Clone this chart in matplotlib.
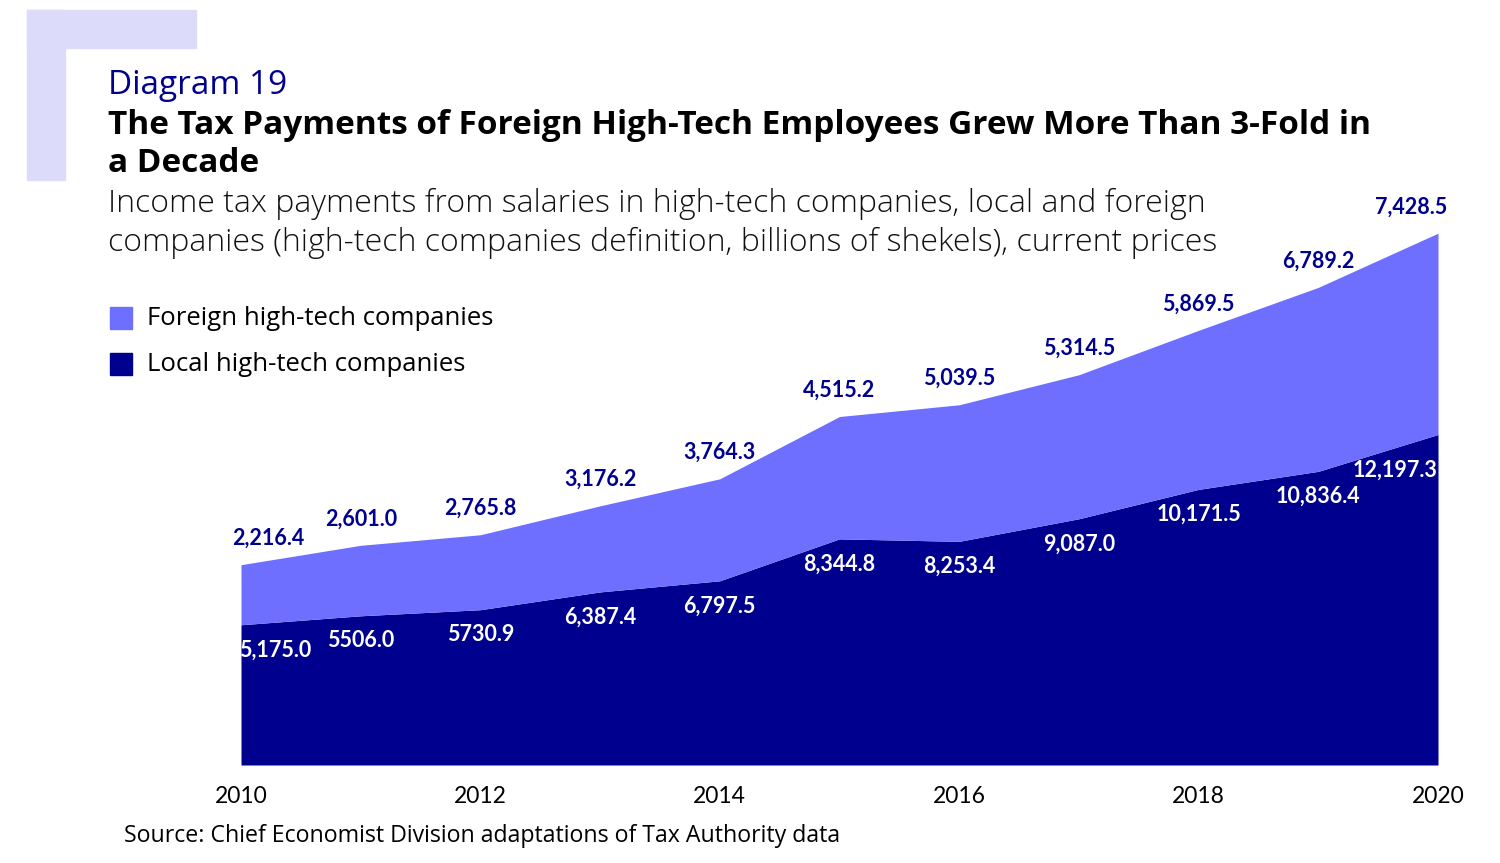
import matplotlib
matplotlib.use('Agg')
import matplotlib.pyplot as plt
import matplotlib.patches as mpatches

# colours
NAVY     = '#00008f'
LIGHT    = '#6e6eff'
DECOR    = '#dcdcfa'
TXT      = '#000000'
FONT     = 'Lato'        # numbers / ticks
TFONT    = 'Open Sans'   # titles, legend, source

# data (billions of shekels)
YEARS    = [2010, 2011, 2012, 2013, 2014, 2015, 2016, 2017, 2018, 2019, 2020]
LOCAL    = [5175.0, 5506.0, 5730.9, 6387.4, 6797.5, 8344.8, 8253.4, 9087.0,
            10171.5, 10836.4, 12197.3]
FOREIGN  = [2216.4, 2601.0, 2765.8, 3176.2, 3764.3, 4515.2, 5039.5, 5314.5,
            5869.5, 6789.2, 7428.5]
LOCAL_LBL   = ['5,175.0', '5506.0', '5730.9', '6,387.4', '6,797.5', '8,344.8',
               '8,253.4', '9,087.0', '10,171.5', '10,836.4', '12,197.3']
FOREIGN_LBL = ['2,216.4', '2,601.0', '2,765.8', '3,176.2', '3,764.3', '4,515.2',
               '5,039.5', '5,314.5', '5,869.5', '6,789.2', '7,428.5']
XTICKS   = [2010, 2012, 2014, 2016, 2018, 2020]

W, H = 1500, 863
fig = plt.figure(figsize=(W / 100, H / 100), dpi=100)
fig.patch.set_facecolor('white')

# decorative L shape in the top-left corner
fig.patches.append(mpatches.Rectangle((27 / W, 1 - 48 / H), 169 / W, 38 / H,
                                      transform=fig.transFigure, color=DECOR, zorder=0))
fig.patches.append(mpatches.Rectangle((27 / W, 1 - 180 / H), 38 / W, 170 / H,
                                      transform=fig.transFigure, color=DECOR, zorder=0))

ax = fig.add_axes([241 / W, (H - 765) / H, (1438 - 241) / W, (765 - 200) / H])
totals = [l + f for l, f in zip(LOCAL, FOREIGN)]
ax.fill_between(YEARS, 0, LOCAL, color=NAVY, linewidth=0)
ax.fill_between(YEARS, LOCAL, totals, color=LIGHT, linewidth=0)

ax.set_xlim(2010, 2020)
ax.set_ylim(0, 20850)
for s in ax.spines.values():
    s.set_visible(False)
ax.set_yticks([])
ax.set_xticks(XTICKS)
ax.set_xticklabels([str(x) for x in XTICKS], fontsize=16.5, fontfamily=FONT, color=TXT)
ax.tick_params(axis='x', length=0, pad=15)

# value labels
n = len(YEARS)
for i, (yr, lo, tot) in enumerate(zip(YEARS, LOCAL, totals)):
    dx_f = 27 if i == 0 else (-27 if i == n - 1 else 0)
    dx_l = 34 if i == 0 else (-43 if i == n - 1 else 0)
    dy_l = -26 if i == n - 1 else -18
    ax.annotate(FOREIGN_LBL[i], (yr, tot), xytext=(dx_f * 0.72, 19), textcoords='offset points',
                ha='center', va='center', fontsize=15.5, fontweight='bold',
                fontfamily=FONT, color=NAVY, annotation_clip=False)
    ax.annotate(LOCAL_LBL[i], (yr, lo), xytext=(dx_l * 0.72, dy_l), textcoords='offset points',
                ha='center', va='center', fontsize=15.5, fontweight='bold',
                fontfamily=FONT, color='white', annotation_clip=False)

# titles
fig.text(108 / W, 1 - 86 / H, 'Diagram 19', fontsize=24, fontfamily=TFONT,
         color=NAVY, va='center')
fig.text(108 / W, 1 - 125 / H,
         'The Tax Payments of Foreign High-Tech Employees Grew More Than 3-Fold in',
         fontsize=24, fontweight='bold', fontfamily=TFONT, color=TXT, va='center')
fig.text(108 / W, 1 - 163 / H, 'a Decade',
         fontsize=24, fontweight='bold', fontfamily=TFONT, color=TXT, va='center')
fig.text(108 / W, 1 - 204 / H,
         'Income tax payments from salaries in high-tech companies, local and foreign',
         fontsize=23, fontweight='light', fontfamily=TFONT, color='#111111', va='center')
fig.text(108 / W, 1 - 243 / H,
         'companies (high-tech companies definition, billions of shekels), current prices',
         fontsize=23, fontweight='light', fontfamily=TFONT, color='#111111', va='center')

# legend
for yc, col, lbl in [(318, LIGHT, 'Foreign high-tech companies'),
                     (364, NAVY, 'Local high-tech companies')]:
    fig.patches.append(mpatches.Rectangle((110 / W, 1 - (yc + 11) / H), 22 / W, 22 / H,
                                          transform=fig.transFigure, color=col))
    fig.text(147 / W, 1 - yc / H, lbl, fontsize=18.5, fontfamily=TFONT, color=TXT, va='center')

fig.text(124 / W, 1 - 836 / H, 'Source: Chief Economist Division adaptations of Tax Authority data',
         fontsize=16.7, fontfamily=TFONT, color=TXT, va='center')

fig.savefig('out.png', dpi=100, facecolor='white')
